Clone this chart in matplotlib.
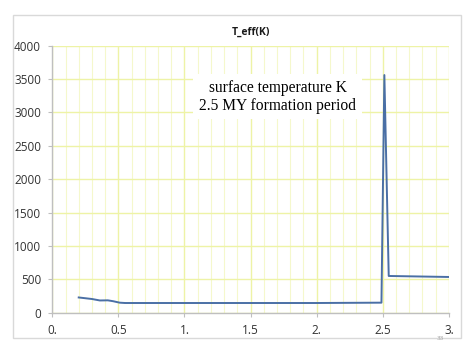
import matplotlib
matplotlib.use('Agg')
from matplotlib import pyplot as plt
from matplotlib.patches import Rectangle
from matplotlib.ticker import MultipleLocator, FuncFormatter

# time (MY) and effective surface temperature (K)
time_my = [0.2, 0.3, 0.36, 0.42, 0.46, 0.51, 0.55, 1.0, 1.5, 2.0, 2.49, 2.512, 2.545, 3.0]
t_eff = [228, 205, 183, 185, 172, 150, 145, 145, 145, 145, 150, 3560, 550, 535]

title = "T_eff(K)"
note = "surface temperature K\n2.5 MY formation period"

grid_major = '#eef3a6'
grid_minor = '#f5f8cc'
text_grey = '#333333'

fig = plt.figure(figsize=(4.74, 3.55), dpi=100)
ax = fig.add_axes([0.1103, 0.1192, 0.8367, 0.7521])

ax.plot(time_my, t_eff, color='#4a6fa5', linewidth=1.4, zorder=3)

ax.set_xlim(0, 3)
ax.set_ylim(0, 4000)
ax.xaxis.set_major_locator(MultipleLocator(0.5))
ax.xaxis.set_minor_locator(MultipleLocator(0.1))
ax.yaxis.set_major_locator(MultipleLocator(500))


def x_label(v, pos):
    if abs(v - round(v)) < 1e-9:
        return f"{int(round(v))}."
    return f"{v:.1f}"


ax.xaxis.set_major_formatter(FuncFormatter(x_label))

ax.grid(which='major', color=grid_major, linewidth=1.0, zorder=0)
ax.grid(which='minor', axis='x', color=grid_minor, linewidth=0.8, zorder=0)
ax.set_axisbelow(True)

for side in ['top', 'right']:
    ax.spines[side].set_visible(False)
for side in ['left', 'bottom']:
    ax.spines[side].set_color('#bfbfbf')
    ax.spines[side].set_linewidth(1.0)

ax.tick_params(axis='both', which='major', labelsize=8.5, colors='#bfbfbf',
               labelcolor=text_grey, length=3, width=0.8)
ax.tick_params(axis='x', which='minor', length=0)
ax.tick_params(axis='y', pad=5)
ax.tick_params(axis='x', pad=5)
for lab in ax.get_xticklabels() + ax.get_yticklabels():
    lab.set_family('Open Sans')

ax.set_title(title, fontsize=7.5, fontweight='bold', family='Open Sans', color='#1a1a1a', pad=8)

ax.text(0.568, 0.808, note, transform=ax.transAxes, ha='center', va='center',
        family='Liberation Serif', fontsize=11.2, color='black', linespacing=1.15,
        bbox=dict(facecolor='white', edgecolor='none', pad=4), zorder=4)

fig.patches.append(Rectangle((13 / 474, 1 - 338 / 355), 448 / 474, 323 / 355,
                             transform=fig.transFigure, fill=False,
                             edgecolor='#d9d9d9', linewidth=1.0))
fig.text(440 / 474, 1 - 339 / 355, "33", fontsize=4.5, color='#a0a0a0',
         ha='center', va='center', family='Open Sans')

plt.savefig('out.png', dpi=100)
